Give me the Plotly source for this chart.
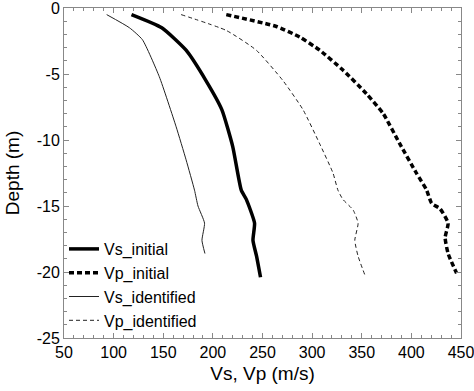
import plotly.graph_objects as go

vs_init_x = [118, 148.5, 173, 193, 209, 220, 228.6, 233.7, 242, 240.4, 244, 248]
vs_init_y = [-0.5, -1.5, -3.2, -5.5, -7.7, -10.5, -13.8, -14.5, -16.3, -17.6, -18.8, -20.4]

vp_init_x = [213.5, 264, 287.5, 307.7, 331, 354.8, 371.6, 388.4, 405, 415.4, 420.4, 428.8, 437, 434, 437, 445.6]
vp_init_y = [-0.5, -1.4, -2.2, -3.2, -4.7, -6.5, -8, -10.3, -12.5, -13.8, -14.8, -15.2, -16.3, -17.4, -18.6, -20.1]

vs_id_x = [93, 116, 129, 146, 163, 173, 181.5, 185, 191.6, 189, 192]
vs_id_y = [-0.5, -1.5, -2.4, -5.2, -9, -11.5, -13.8, -15, -16.3, -17.6, -18.6]

vp_id_x = [168, 213.5, 243.8, 270.6, 290.8, 307.7, 321, 326, 331, 341.3, 346.3, 343, 346.3, 353]
vp_id_y = [-0.5, -1.7, -3.2, -5.5, -7.7, -10.3, -12.5, -13.8, -14.5, -15.3, -16.3, -17.6, -18.8, -20.2]

x_ticks = [50, 100, 150, 200, 250, 300, 350, 400, 450]
y_ticks = [0, -5, -10, -15, -20, -25]
y_tick_labels = ["0", "-5", "-10", "-15", "-20", "-25"]

fig = go.Figure()
fig.add_trace(go.Scatter(x=vs_init_x, y=vs_init_y, mode="lines", name="Vs_initial",
                         line=dict(color="black", width=3.5, shape="spline", smoothing=0.5)))
fig.add_trace(go.Scatter(x=vp_init_x, y=vp_init_y, mode="lines", name="Vp_initial",
                         line=dict(color="black", width=3.5, dash="5px,3px", shape="spline", smoothing=0.5)))
fig.add_trace(go.Scatter(x=vs_id_x, y=vs_id_y, mode="lines", name="Vs_identified",
                         line=dict(color="#222", width=1, shape="spline", smoothing=0.5)))
fig.add_trace(go.Scatter(x=vp_id_x, y=vp_id_y, mode="lines", name="Vp_identified",
                         line=dict(color="#222", width=1, dash="4px,3px", shape="spline", smoothing=0.5)))

font = dict(family="Liberation Sans, Arial, sans-serif", size=16, color="black")
fig.update_layout(
    width=474, height=391,
    margin=dict(l=64, r=13, t=8, b=53),
    paper_bgcolor="white", plot_bgcolor="white",
    font=font,
    showlegend=True,
    legend=dict(x=0.0, y=0.0, xanchor="left", yanchor="bottom",
                bgcolor="rgba(0,0,0,0)", font=dict(size=16),
                tracegroupgap=0, itemwidth=30),
)
fig.update_xaxes(
    range=[50, 450], tickvals=x_ticks, showgrid=False, zeroline=False,
    showline=True, linecolor="#888", linewidth=1, mirror="ticks",
    ticks="inside", ticklen=5, tickcolor="#888",
    minor=dict(ticks="inside", ticklen=3, dtick=10, tickcolor="#888", showgrid=False),
    title=dict(text="Vs, Vp (m/s)", standoff=6),
    tickfont=dict(size=16), automargin=False, ticklabeloverflow="allow",
)
fig.update_yaxes(
    range=[-25, 0], tickvals=y_ticks, ticktext=y_tick_labels, showgrid=False, zeroline=False,
    showline=True, linecolor="#888", linewidth=1, mirror="ticks",
    ticks="inside", ticklen=5, tickcolor="#888",
    minor=dict(ticks="inside", ticklen=3, dtick=1, tickcolor="#888", showgrid=False),
    title=dict(text="Depth (m)", standoff=12),
    tickfont=dict(size=16), automargin=False, ticklabeloverflow="allow",
)
fig.write_html("out.html", config={"displayModeBar": False},
               post_script="document.body.style.margin='0';document.body.style.overflow='hidden';")
